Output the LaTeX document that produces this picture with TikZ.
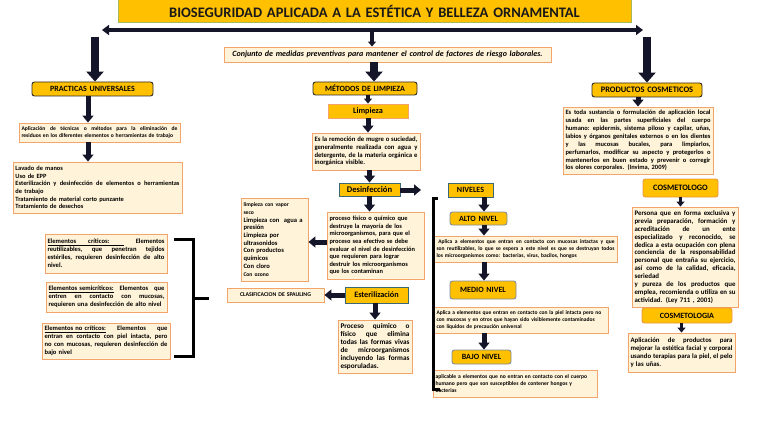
\documentclass[tikz,border=0pt]{standalone}
\usepackage{fontspec}
\setmainfont{Carlito}
\usetikzlibrary{arrows.meta}
\definecolor{yel}{HTML}{FFC000}
\definecolor{cream}{HTML}{FFF3D9}
\definecolor{org}{HTML}{F2A46A}
\definecolor{orgd}{HTML}{E9953C}
\definecolor{dk}{HTML}{2B2B2B}
\definecolor{tealb}{HTML}{3B6878}
\definecolor{gb}{HTML}{7D8CA0}
\definecolor{arr}{HTML}{15152A}
\definecolor{grn}{HTML}{A5B85A}
\def\jsplit#1 #2\jend{#1\if\relax\detokenize{#2}\relax\else\hfill\jsplit#2\jend\fi}
\newcommand\jline[1]{\leavevmode\hbox to\tw{\jsplit#1 \jend}\\}
\newcommand\mybox[7]{%
  \pgfmathsetlengthmacro\bw{(#5-#3)*1pt}%
  \pgfmathsetlengthmacro\bh{(#6-#4)*1pt}%
  \pgfmathsetlengthmacro\tw{(#5-#3-5)*1pt}%
  \node[#1, minimum width=\bw, minimum height=\bh, text width=\tw] (#2) at ({(#3+#5)/2},{(#4+#6)/2}) {#7};}
\newcommand\fs[2]{\bfseries\fontsize{#1}{#2}\selectfont\parindent=0pt\hyphenpenalty=10000 }
\begin{document}
\begin{tikzpicture}[x=1pt,y=-1pt,
  ttl/.style={fill=yel, draw=grn, line width=1pt, inner xsep=2.5pt, inner ysep=1pt, align=center, text=black!90, font=\fs{14.5}{16}},
  hd/.style={fill=yel, draw=dk, line width=0.9pt, rounded corners=2.5pt, inner xsep=2.5pt, inner ysep=0.5pt, align=center, font=\fs{8}{9}},
  hdsq/.style={hd, rounded corners=0pt, draw=tealb},
  tb/.style={fill=cream, draw=org, line width=0.9pt, inner xsep=2.5pt, inner ysep=0.5pt, align=left},
  ar/.style={draw=arr, line width=5pt, -{Triangle[width=11pt,length=7pt]}},
  arb/.style={draw=arr, line width=8pt, -{Triangle[width=17pt,length=10pt]}},
  ars/.style={draw=arr, line width=3.5pt, -{Triangle[width=8pt,length=5pt]}},
  dbl/.style={draw=arr, line width=4pt, {Triangle[width=10pt,length=7pt]}-{Triangle[width=10pt,length=7pt]}},
  brk/.style={draw=black, line width=3pt}]
\useasboundingbox (0,0) rectangle (768,433);

% title and top level
\mybox{ttl}{title}{118}{-1}{631}{23}{BIOSEGURIDAD APLICADA A LA ESTÉTICA Y BELLEZA ORNAMENTAL}
\mybox{tb, align=center, font=\fs{8}{9}\itshape}{conj}{224}{47}{551}{62}{Conjunto de medidas preventivas para mantener el control de factores de riesgo laborales.}

\mybox{hd}{pu}{32}{82}{153}{96}{PRACTICAS UNIVERSALES}
\mybox{hd}{met}{313}{82}{417}{95}{MÉTODOS DE LIMPIEZA}
\mybox{hd, font=\fs{8.4}{9}}{prod}{592}{83}{702}{97}{PRODUCTOS COSMETICOS}

% left column
\mybox{tb, font=\fs{5.6}{6.6}}{aplic}{19}{123}{180}{142}{\jline{Aplicación de técnicas o métodos para la eliminación de}residuos en los diferentes elementos o herramientas de trabajo}
\mybox{tb, font=\fs{6.4}{7.7}}{plist}{13}{162}{182}{213}{Lavado de manos\\Uso de EPP\\\jline{Esterilización y desinfección de elementos o herramientas}de trabajo\\Tratamiento de material corto punzante\\Tratamiento de desechos}

\mybox{tb, font=\fs{6.6}{8}}{crit}{45}{234}{167}{273}{\jline{\underline{Elementos\hspace{12pt}críticos:\hspace{14pt}} Elementos}\jline{reutilizables, que penetran tejidos}\jline{estériles, requieren desinfección de alto}nivel.}
\mybox{tb, font=\fs{6.6}{8}}{semi}{46}{282}{167}{312}{\jline{\underline{Elementos semicríticos:} Elementos que}\jline{entren en contacto con mucosas,}requieren una desinfección de alto nivel}
\mybox{tb, font=\fs{6.6}{8}}{noc}{42}{323}{170}{359}{\jline{\underline{Elementos no críticos:} Elementos que}\jline{entran en contacto con piel intacta, pero}\jline{no con mucosas, requieren desinfección de}bajo nivel}

% middle column
\mybox{hdsq, draw=org, font=\fs{8.2}{9}}{limp}{328}{104}{408}{118}{Limpieza}
\mybox{tb, font=\fs{6.7}{7.8}}{rem}{312}{133}{420}{170}{\jline{Es la remoción de mugre o suciedad,}\jline{generalmente realizada con agua y}\jline{detergente, de la materia orgánica e}inorgánica visible.}
\mybox{hdsq, font=\fs{8.6}{9}}{des}{339}{183}{400}{196}{Desinfección}
\mybox{tb, font=\fs{6.4}{7.6}}{proc}{327}{212}{424}{279}{proceso físico o químico que\\destruye la mayoría de los\\microorganismos, para que el\\proceso sea efectivo se debe\\evaluar el nivel de desinfección\\que requieren para lograr\\destruir los microorganismos\\que los contaminan}
\mybox{tb, font=\fs{6.6}{7.7}}{llist}{241}{198}{308}{281}{{\fontsize{5.6}{7.7}\selectfont limpieza con vapor}\\{\fontsize{5.6}{7.7}\selectfont seco}\\Limpieza con \ agua a\\presión\\Limpieza por\\ultrasonidos\\Con productos\\químicos\\Con cloro\\{\fontsize{5.6}{7.7}\selectfont Con ozono}}
\mybox{tb, align=center, font=\fs{5.8}{6}}{clas}{227}{288}{324}{302}{CLASIFICACION DE SPAULING}
\mybox{hdsq, font=\fs{8.2}{9}}{est}{345}{287}{408}{303}{Esterilización}
\mybox{tb, font=\fs{7.2}{7.9}}{estb}{338}{320}{412}{373}{\jline{Proceso químico o}\jline{físico que elimina}\jline{todas las formas vivas}\jline{de microorganismos}\jline{incluyendo las formas}esporuladas.}

% niveles
\mybox{hdsq}{niv}{448}{183}{493}{197}{NIVELES}
\mybox{hd, draw=gb}{alto}{450}{212}{507}{225}{ALTO NIVEL}
\mybox{tb, font=\fs{5.5}{7}}{altob}{434}{236}{617}{262}{\jline{\ Aplica a elementos que entran en contacto con mucosas intactas y que}\jline{son reutilizables, lo que se espera a este nivel es que se destruyan todos}los microorganismos como: bacterias, virus, bacilos, hongos}
\mybox{hd, draw=gb}{medio}{450}{281}{516}{299}{MEDIO NIVEL}
\mybox{tb, font=\fs{5.5}{7}}{mediob}{434}{307}{608}{333}{Aplica a elementos que entran en contacto con la piel intacta pero no\\con mucosas y en otros que hayan sido visiblemente contaminados\\con líquidos de precaución universal}
\mybox{hd, draw=gb}{bajo}{452}{350}{511}{364}{BAJO NIVEL}
\mybox{tb, font=\fs{5.6}{7}}{bajob}{433}{370}{597}{397}{aplicable a elementos que no entran en contacto con el cuerpo\\humano pero que son susceptibles de contener hongos y\\bacterias}

% right column
\mybox{tb, font=\fs{6.5}{7.9}}{prodb}{563}{107}{713}{174}{\jline{Es toda sustancia o formulación de aplicación local}\jline{usada en las partes superficiales del cuerpo}\jline{humano: epidermis, sistema piloso y capilar, uñas,}\jline{labios y órganos genitales externos o en los dientes}\jline{y las mucosas bucales, para limpiarlos,}\jline{perfumarlos, modificar su aspecto y protegerlos o}\jline{mantenerlos en buen estado y prevenir o corregir}los olores corporales. (Invima, 2009)}
\mybox{hd, draw=orgd, font=\fs{8.3}{9}}{cmo}{643}{179}{718}{197}{COSMETOLOGO}
\mybox{tb, font=\fs{6.9}{7.9}}{cmob}{632}{207}{738}{307}{\jline{Persona que en forma exclusiva y}\jline{previa preparación, formación y}\jline{acreditación de un ente}\jline{especializado y reconocido, se}\jline{dedica a esta ocupación con plena}\jline{conciencia de la responsabilidad}\jline{personal que entraña su ejercicio,}\jline{así como de la calidad, eficacia,}seriedad\\\jline{y pureza de los productos que}\jline{emplea, recomienda o utiliza en su}actividad. (Ley 711 , 2001)}
\mybox{hd, draw=orgd}{cma}{642}{308}{732}{323}{COSMETOLOGIA}
\mybox{tb, font=\fs{6.8}{7.8}}{cmab}{628}{333}{735}{372}{\jline{Aplicación de productos para}\jline{mejorar la estética facial y corporal}\jline{usando terapias para la piel, el pelo}y las uñas.}

% connectors
\coordinate (hl) at (102,30);
\coordinate (hr) at (643,30);
\coordinate (hc) at (372,32);
\coordinate (lt) at (95,37);
\coordinate (rt) at (647,37);
\coordinate (cx) at (374,0);
\coordinate (px) at (88,0);
\coordinate (nx) at (484,0);
\coordinate (yl) at (0,242);
\coordinate (dr) at (421,190);
\draw[dbl] (hl) -- (hr);
\draw[ars] (hc) -- (hc |- conj.north);
\draw[arb] (lt) -- (lt |- pu.north);
\draw[arb] (rt) -- (rt |- prod.north);
\draw[arb] (conj.south -| cx) -- (met.north -| cx);

\draw[ar] (pu.south -| px) -- (aplic.north -| px);
\draw[ar] (aplic.south -| px) -- (plist.north -| px);

\draw[ars] (met.south -| limp.north) -- (limp.north);
\draw[ar] (limp.south) -- (limp.south |- rem.north);
\draw[ar] (rem.south -| des.north) -- (des.north);
\draw[ar] (des.south) -- (des.south |- proc.north);
\draw[ar] (des.east |- dr) -- (dr);
\draw[ar] (proc.west |- yl) -- (llist.east |- yl);
\draw[ar] (est.west) -- (clas.east);
\draw[ar] (est.south -| estb.north) -- (estb.north);

\draw[ar] (niv.south -| nx) -- (alto.north -| nx);
\draw[ar] (alto.south -| nx) -- (altob.north -| nx);
\draw[ar] (altob.south -| nx) -- (medio.north -| nx);
\draw[ar] (mediob.south -| nx) -- (bajo.north -| nx);

\draw[ar] (prod.south -| prodb.north) -- (prodb.north);
\draw[ars] (cmo.south) -- (cmo.south |- cmob.north);
\draw[ars] (cma.south -| cmab.north) -- (cmab.north);

% brackets
\draw[brk] (174,239) -- (193,239) -- (193,356) -- (174,356);
\draw[brk] (193,298) -- (209,298);
\draw[brk] (438,198) -- (433,198) -- (433,389) -- (440,389);
\end{tikzpicture}
\end{document}
